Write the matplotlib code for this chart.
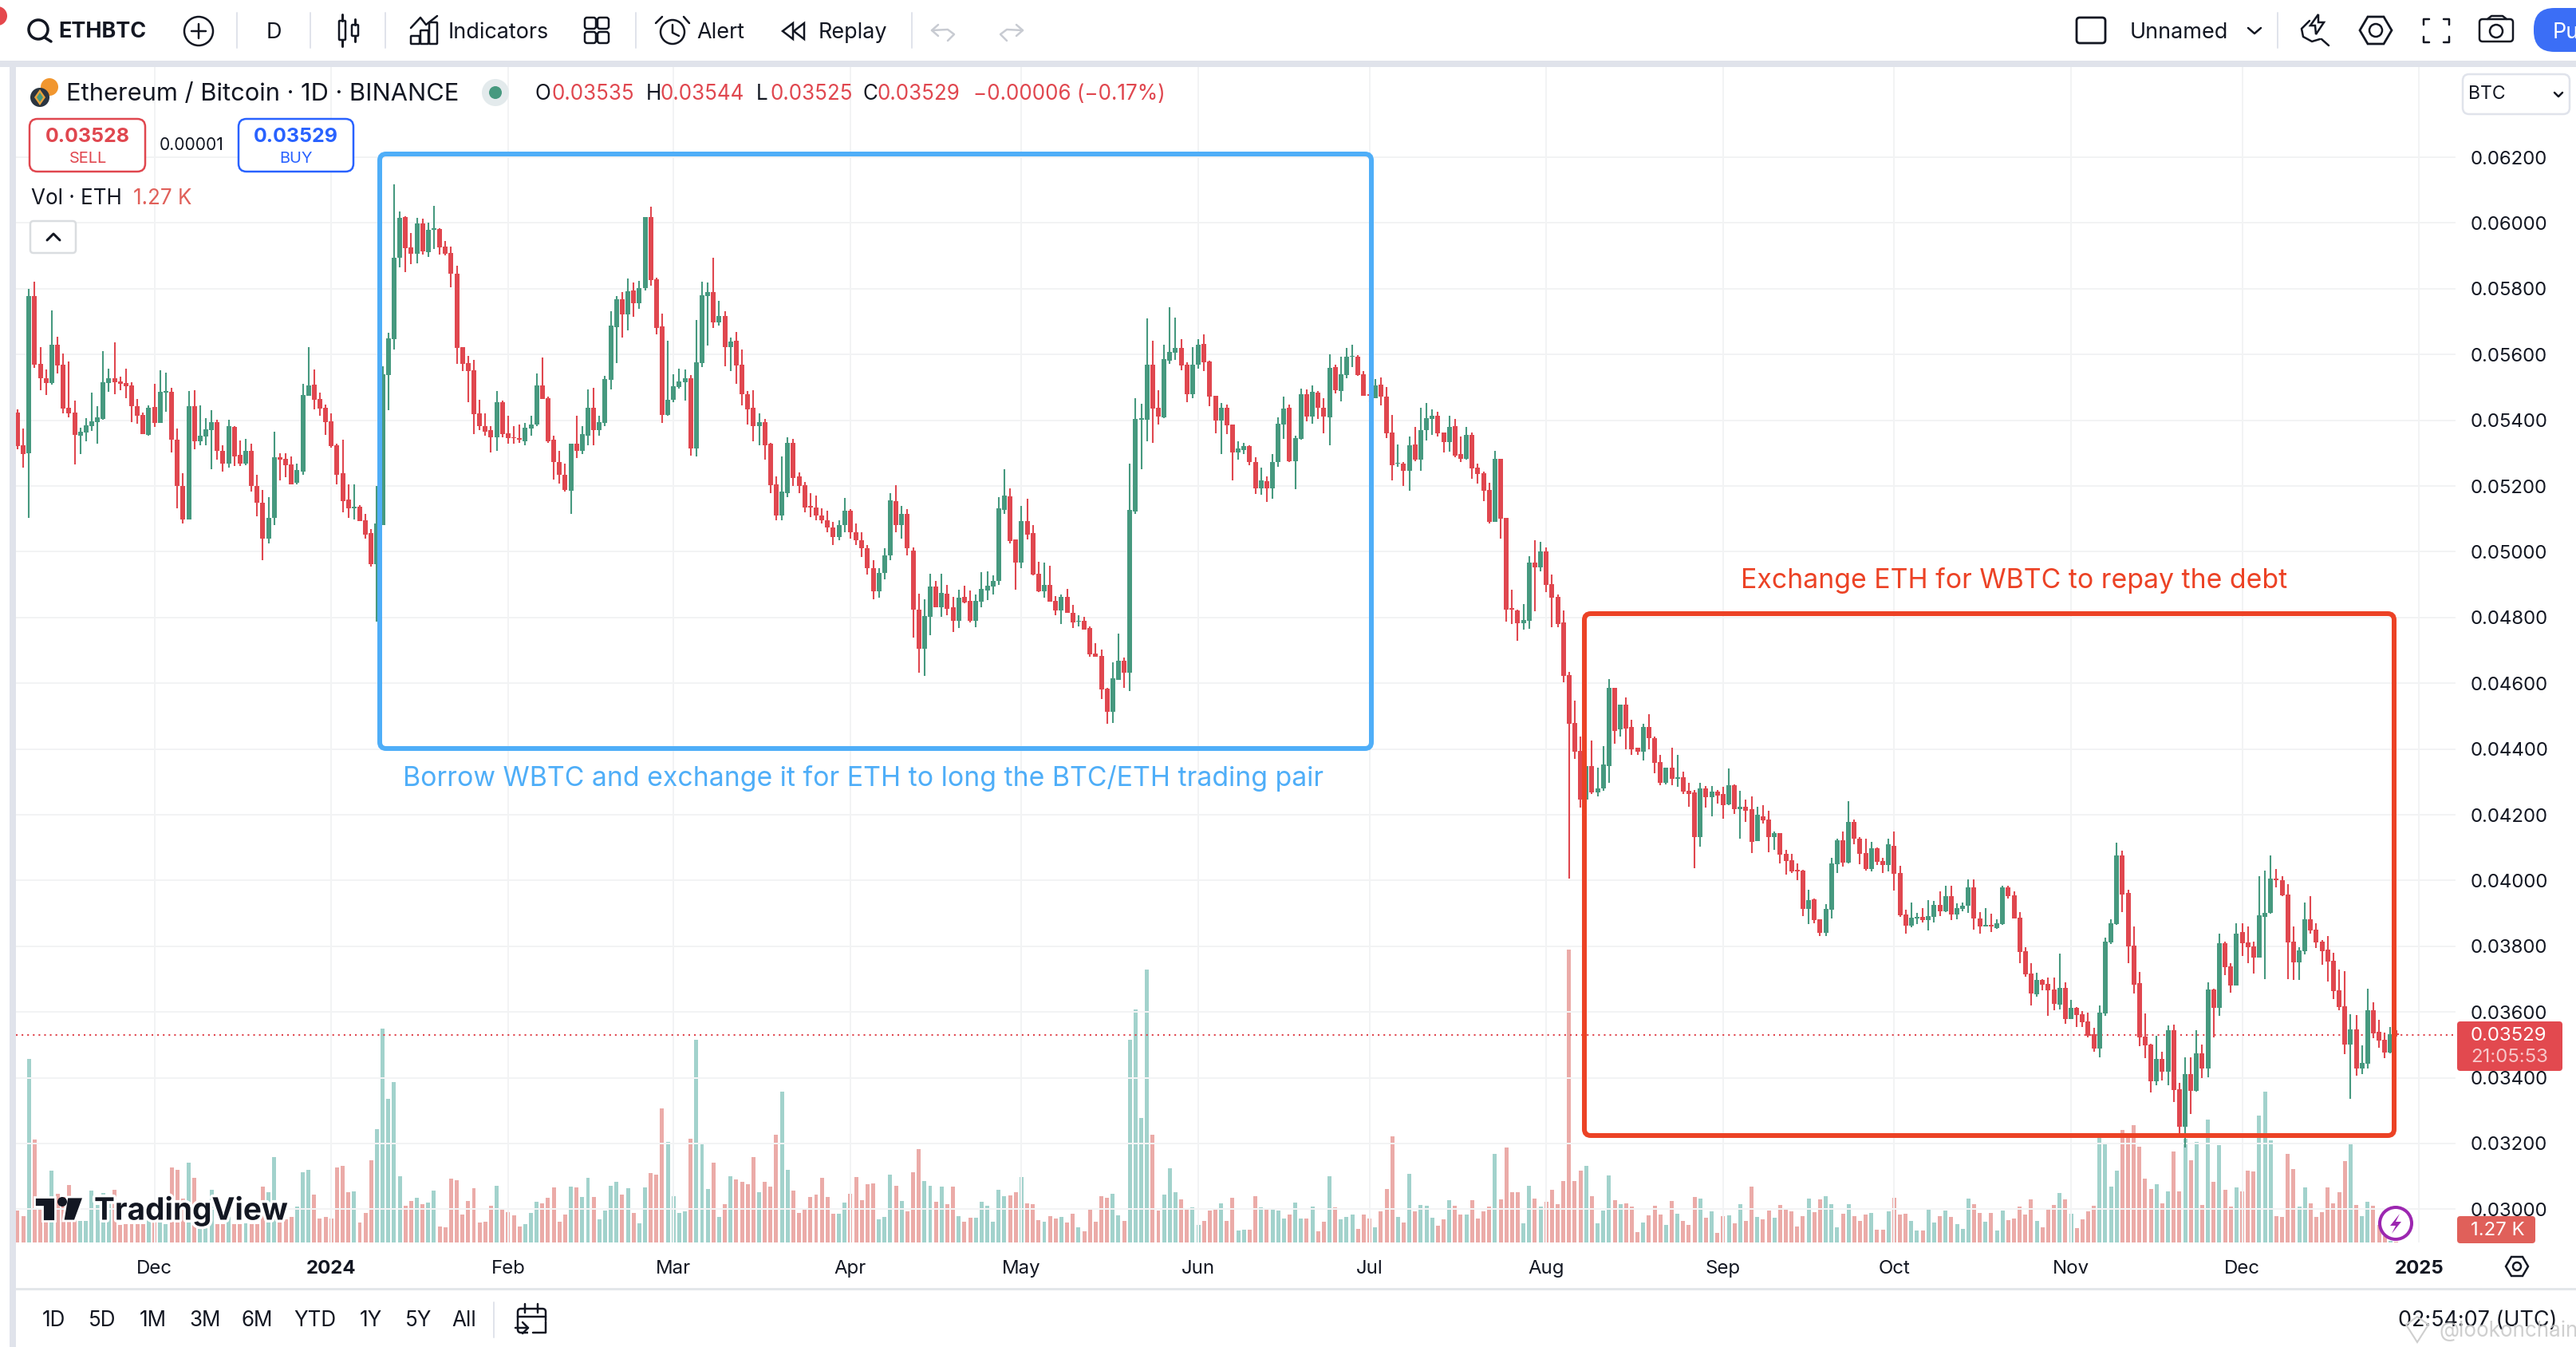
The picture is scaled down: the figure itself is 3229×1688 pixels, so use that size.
import numpy as np
import matplotlib
matplotlib.use('Agg')
import matplotlib.pyplot as plt
import matplotlib.dates as mdates
import matplotlib.patheffects as pe
from matplotlib.patches import FancyBboxPatch, Circle, Polygon, Rectangle

plt.rcParams['font.family'] = ['Inter', 'DejaVu Sans']

# ---- data (prices in units of 0.00001 BTC, volume in thousand ETH) ----
first_day = '2023-11-07'
opens = [5423,5323,5299,5777,5571,5527,5512,5629,5568,5437,
5423,5352,5362,5381,5393,5403,5512,5527,5517,5512,
5505,5442,5415,5355,5440,5391,5484,5486,5340,5201,
5099,5442,5335,5350,5369,5393,5308,5269,5379,5294,
5269,5306,5201,5150,5039,5102,5287,5282,5265,5209,
5243,5474,5508,5464,5437,5396,5323,5238,5158,5133,
5136,5095,5056,4961,5082,5537,5646,5894,6018,5926,
5907,5999,5911,5980,5982,5928,5909,5846,5622,5573,
5551,5420,5383,5369,5349,5454,5359,5349,5345,5337,
5374,5386,5505,5466,5340,5274,5233,5186,5328,5308,
5354,5439,5371,5391,5522,5683,5768,5722,5795,5756,
5802,6018,5829,5685,5415,5461,5500,5515,5527,5313,
5573,5778,5790,5697,5717,5622,5641,5568,5478,5437,
5381,5393,5328,5206,5110,5179,5332,5228,5203,5140,
5135,5110,5095,5075,5045,5080,5125,5060,5035,5010,
4950,4880,4935,4990,5155,5080,5115,
5004,4825,4704,4803,4893,4832,4872,4830,4789,4862,
4850,4789,4847,4883,4893,4910,5128,5169,5038,4966,
5094,5056,4934,4879,4900,4850,4822,4862,4815,4787,
4789,4767,4690,4682,4583,4513,4611,4668,4633,5123,
5402,5402,5569,5438,5409,5581,5605,5620,5569,5480,
5569,5632,5579,5475,5399,5438,5387,5303,5310,5322,
5274,5193,5215,5193,5272,5387,5438,5276,5344,5480,
5411,5485,5438,5409,5562,5490,5538,5592,5593,5540,
5480,5468,5509,5473,5363,5267,5267,5245,5325,5281,
5370,5404,5414,5363,5334,5383,5296,5283,5356,5257,
5240,5188,5091,5283,5103,4829,4822,4783,4790,4967,
4953,5001,4902,4863,4785,4624,4478,4393,4247,4347,
4269,4281,4349,4585,4459,4534,4466,4403,4391,4468,
4434,4359,4298,4342,4310,4315,4274,4267,4133,4281,
4254,4271,4262,4232,4291,4216,4225,4216,4121,4196,
4186,4133,4143,4082,4062,4033,4031,3914,3943,3883,
3841,3912,4050,4123,4055,4177,4128,4084,4036,4097,
4060,4048,4106,4024,3897,3863,3885,3890,3880,3890,
3926,3907,3953,3897,3914,3924,3980,3885,3861,3866,
3856,3868,3980,3956,3888,3786,3718,3655,3698,3686,
3669,3623,3674,3579,3613,3594,3572,3533,3489,3596,
3812,3868,4075,3961,3803,3689,3526,3501,3390,3458,
3419,3545,3365,3251,3412,3361,3475,3429,3669,3613,
3810,3740,3681,3842,3812,3800,3766,3890,3902,4007,
4002,3958,3815,3752,3786,3881,3851,3815,3791,3757,
3667,3618,3501,3548,3429,3443,3606,3540,3516,3477,3535]
highs = [5432,5374,5799,5821,5622,5554,5734,5653,5602,5578,
5459,5376,5406,5483,5442,5610,5556,5636,5532,5556,
5515,5464,5423,5444,5510,5551,5544,5498,5374,5238,
5488,5491,5444,5406,5430,5401,5325,5401,5381,5338,
5342,5328,5233,5187,5165,5364,5299,5299,5291,5267,
5510,5622,5554,5483,5447,5420,5328,5340,5206,5204,
5141,5116,5070,5199,5564,5666,6118,6036,6021,5970,
6016,6014,6001,6053,5984,5946,5928,5870,5622,5595,
5583,5461,5420,5383,5488,5459,5413,5381,5386,5391,
5413,5542,5590,5473,5352,5308,5267,5328,5413,5381,
5493,5498,5413,5534,5731,5778,5790,5831,5819,5824,
6018,6050,5834,5724,5641,5539,5556,5554,5537,5705,
5821,5819,5894,5763,5731,5651,5668,5615,5488,5491,
5422,5405,5332,5230,5289,5349,5342,5242,5211,5179,
5172,5133,5125,5090,5095,5164,5130,5085,5060,5020,
4975,4950,5010,5179,5203,5140,5130,
5013,4872,4855,4932,4910,4932,4900,4862,4884,4896,
4881,4869,4939,4941,4927,5167,5250,5193,5038,5140,
5162,5080,4970,4966,4958,4864,4869,4888,4839,4808,
4803,4774,4723,4702,4585,4663,4752,4678,5267,5468,
5449,5710,5642,5492,5630,5744,5713,5646,5577,5623,
5646,5660,5581,5475,5452,5448,5387,5337,5332,5325,
5288,5255,5230,5298,5409,5473,5448,5354,5497,5494,
5507,5490,5466,5601,5569,5593,5620,5630,5598,5550,
5543,5526,5531,5502,5416,5327,5272,5351,5380,5438,
5453,5433,5426,5363,5414,5404,5351,5380,5363,5269,
5244,5210,5308,5283,5103,4885,4824,4841,4987,5035,
5031,5014,4931,4870,4822,4634,4548,4439,4380,4425,
4342,4408,4612,4587,4534,4556,4490,4405,4476,4507,
4439,4383,4344,4403,4381,4330,4298,4276,4296,4288,
4288,4276,4286,4340,4293,4274,4245,4257,4225,4228,
4213,4150,4143,4092,4082,4053,4033,3973,3946,3883,
3929,4070,4128,4150,4242,4186,4131,4126,4118,4101,
4070,4126,4150,4045,3912,3934,3902,3917,3941,3939,
3968,3985,3985,3931,3934,4004,4004,3905,3917,3900,
3883,3985,3985,3968,3905,3798,3749,3720,3701,3706,
3706,3778,3691,3638,3616,3604,3599,3552,3621,3825,
3883,4114,4090,3973,3861,3723,3596,3504,3528,3480,
3560,3562,3385,3463,3463,3545,3501,3691,3672,3839,
3815,3749,3871,3871,3859,3815,4012,4031,4075,4034,
4012,3990,3859,3798,3934,3953,3871,3820,3832,3781,
3730,3725,3594,3591,3499,3672,3630,3577,3538,3555,3544]
lows = [5311,5257,5104,5559,5491,5476,5508,5542,5420,5408,
5265,5296,5335,5367,5328,5401,5486,5478,5491,5466,
5393,5389,5357,5352,5379,5391,5425,5301,5133,5087,
5099,5311,5323,5325,5250,5279,5243,5255,5260,5260,
5262,5184,5107,4975,5026,5080,5216,5226,5206,5206,
5233,5474,5432,5413,5355,5316,5206,5121,5104,5097,
5092,5039,4954,4788,5082,5431,5615,5865,5851,5875,
5877,5904,5897,5921,5904,5902,5804,5571,5549,5456,
5357,5369,5352,5303,5308,5349,5328,5328,5332,5323,
5354,5383,5464,5330,5220,5208,5184,5115,5284,5298,
5323,5323,5354,5381,5493,5573,5651,5673,5714,5739,
5795,5809,5661,5391,5413,5456,5495,5459,5293,5289,
5561,5627,5680,5688,5564,5549,5510,5444,5386,5335,
5325,5279,5179,5095,5095,5167,5199,5177,5120,5105,
5095,5085,5060,5020,5035,5060,5040,5020,4985,4930,
4855,4860,4915,4975,5060,5040,4990,
4740,4631,4623,4747,4832,4801,4808,4757,4767,4842,
4784,4770,4832,4852,4869,4900,5116,5026,4884,4951,
5038,4927,4876,4859,4847,4808,4779,4813,4769,4772,
4764,4680,4680,4551,4476,4479,4611,4587,4575,5114,
5251,5337,5332,5387,5407,5572,5584,5552,5456,5466,
5556,5550,5443,5361,5296,5358,5217,5281,5298,5264,
5176,5174,5152,5162,5259,5342,5274,5191,5341,5397,
5390,5404,5361,5325,5482,5458,5528,5562,5535,5475,
5454,5466,5445,5346,5217,5259,5201,5186,5276,5245,
5339,5356,5351,5303,5305,5287,5274,5281,5222,5208,
5154,5086,5091,5040,4788,4780,4729,4763,4766,4819,
4941,4877,4771,4771,4603,4007,4371,4223,4240,4262,
4257,4274,4298,4415,4439,4398,4381,4381,4366,4398,
4327,4291,4293,4291,4286,4264,4225,4038,4104,4223,
4196,4235,4189,4230,4203,4126,4179,4084,4121,4174,
4087,4094,4053,4019,4024,4002,3892,3868,3871,3832,
3832,3885,4024,4043,4053,4109,4050,4031,4028,4048,
4024,4028,3970,3890,3839,3858,3868,3873,3849,3873,
3892,3905,3880,3883,3907,3902,3851,3839,3859,3842,
3854,3866,3944,3885,3749,3708,3621,3647,3667,3589,
3606,3608,3565,3579,3555,3555,3523,3480,3463,3589,
3808,3866,3905,3749,3657,3497,3460,3356,3378,3392,
3378,3326,3232,3188,3290,3358,3399,3402,3523,3589,
3713,3659,3681,3771,3749,3718,3766,3701,3900,3978,
3953,3701,3698,3698,3776,3839,3795,3744,3693,3640,
3606,3472,3336,3407,3412,3429,3521,3492,3460,3475,3525]
closes = [5321,5296,5777,5568,5527,5512,5629,5566,5435,5420,
5355,5364,5384,5396,5408,5515,5527,5515,5510,5503,
5442,5413,5357,5437,5391,5486,5488,5340,5199,5099,
5442,5335,5352,5372,5393,5308,5267,5381,5291,5269,
5306,5199,5148,5041,5104,5287,5279,5262,5206,5248,
5476,5505,5461,5435,5393,5321,5235,5155,5131,5138,
5092,5053,4961,5085,5539,5649,5894,6016,5924,5907,
5999,5914,5980,5984,5926,5907,5846,5619,5571,5549,
5418,5381,5366,5349,5456,5357,5345,5345,5340,5376,
5388,5505,5464,5337,5272,5233,5189,5328,5308,5357,
5439,5371,5393,5525,5688,5768,5722,5792,5756,5802,
6018,5826,5680,5415,5461,5503,5517,5527,5313,5576,
5780,5790,5697,5717,5622,5639,5566,5478,5432,5381,
5393,5325,5203,5110,5182,5332,5225,5201,5135,5135,
5110,5095,5075,5045,5080,5125,5060,5035,5010,4950,
4880,4935,4990,5157,5080,5115,5010,
4823,4704,4805,4893,4832,4874,4827,4789,4859,4846,
4789,4850,4886,4896,4910,5131,5172,5033,4966,5094,
5053,4931,4879,4900,4847,4822,4862,4813,4784,4791,
4764,4687,4680,4580,4513,4614,4668,4632,5128,5404,
5407,5569,5436,5411,5586,5608,5620,5567,5480,5569,
5630,5577,5473,5399,5438,5385,5303,5313,5322,5272,
5193,5217,5193,5274,5390,5436,5276,5346,5480,5411,
5487,5438,5411,5560,5492,5540,5593,5595,5538,5475,
5475,5507,5472,5361,5262,5270,5245,5325,5281,5370,
5407,5414,5361,5334,5380,5293,5283,5356,5254,5237,
5186,5091,5283,5101,4824,4824,4783,4792,4967,4953,
5001,4899,4860,4780,4622,4476,4391,4247,4347,4269,
4281,4352,4585,4456,4534,4461,4400,4391,4468,4432,
4357,4298,4342,4310,4315,4271,4262,4131,4281,4254,
4271,4259,4230,4291,4216,4225,4213,4118,4199,4182,
4133,4143,4079,4060,4028,4028,3914,3941,3880,3841,
3914,4053,4123,4055,4177,4126,4082,4036,4097,4058,
4048,4109,4021,3895,3863,3888,3890,3880,3892,3926,
3907,3953,3897,3917,3924,3980,3885,3859,3866,3861,
3871,3978,3953,3885,3783,3715,3657,3698,3684,3667,
3625,3674,3579,3613,3591,3569,3528,3489,3599,3815,
3871,4077,3958,3800,3684,3523,3499,3390,3458,3419,
3545,3363,3251,3412,3361,3475,3429,3669,3613,3810,
3737,3681,3839,3810,3798,3766,3893,3902,4007,4000,
3956,3812,3752,3788,3881,3849,3812,3786,3754,3664,
3616,3501,3548,3429,3446,3606,3535,3514,3477,3533,3529]
volumes = [40,33,230,129,41,37,90,61,57,72,
43,27,27,65,47,62,58,66,22,23,
23,23,23,33,33,27,23,94,91,55,
100,81,17,37,66,23,23,40,23,23,
24,23,23,70,63,107,27,29,32,45,
88,91,60,30,32,30,94,96,63,64,
25,37,103,142,268,180,201,83,46,52,
56,48,50,65,20,19,80,78,35,52,
68,25,26,46,71,43,38,34,20,23,
37,51,49,56,69,26,35,70,69,57,
81,57,29,40,71,76,60,68,37,
24,69,87,85,168,126,58,37,39,130,
254,125,67,100,32,48,83,79,76,73,
107,63,76,70,135,189,91,65,37,41,
57,60,81,57,36,36,50,61,82,53,
73,74,29,32,85,71,52,39,88,117,
77,71,51,70,48,70,33,26,31,31,
51,46,26,66,58,59,63,82,49,48,
28,26,33,30,32,25,36,19,14,41,
26,58,56,61,34,27,254,292,156,342,
135,40,60,93,63,54,42,44,22,27,
40,43,49,27,56,15,16,16,58,44,
41,43,40,30,35,50,30,30,45,14,
26,83,44,29,32,35,17,35,30,19,
39,67,133,32,25,86,39,47,46,31,
21,29,53,46,35,35,53,30,39,45,
111,54,119,63,63,24,71,55,45,51,
66,48,77,367,77,90,96,58,24,40,
84,53,48,49,45,13,25,34,46,35,
22,52,36,27,22,57,55,31,39,12,
33,34,24,48,27,70,32,29,40,31,
47,41,39,20,33,55,38,54,58,48,
19,36,48,33,27,35,37,16,16,39,
56,35,36,27,15,15,43,25,33,40,
32,23,17,55,48,37,26,37,15,40,
28,30,45,35,54,27,19,41,47,62,
54,36,18,29,39,46,137,125,70,90,
141,137,147,120,80,67,73,49,64,114,
64,130,103,126,47,154,76,122,66,45,
69,64,90,89,159,189,128,33,32,111,
92,45,69,49,32,38,69,49,63,102,
125,47,33,51,46,22,8,2,1.27]

price_ticks = [0.030 + 0.002 * i for i in range(17)]
month_starts = ['2023-12-01','2024-01-01','2024-02-01','2024-03-01','2024-04-01','2024-05-01','2024-06-01',
                '2024-07-01','2024-08-01','2024-09-01','2024-10-01','2024-11-01','2024-12-01','2025-01-01']
month_labels = ['Dec','2024','Feb','Mar','Apr','May','Jun','Jul','Aug','Sep','Oct','Nov','Dec','2025']

# ---- colours ----
GREEN, RED = '#46997F', '#E0474F'
VGREEN, VRED = '#A2D2CC', '#EBABA8'
INK, GRID, STRIP = '#131722', '#F2F3F4', '#E0E3EB'
BLUEBOX, REDBOX = '#4FAEF8', '#EC4225'

W, H = 3230, 1688
fig = plt.figure(figsize=(W / 100, H / 100), dpi=100, facecolor='white')
def fs(px):
    return px * 0.72

# ---- chart axes ----
L, R, T, B = 20, 3078, 84, 1557
PXDAY, PXPRICE = 7.15, 82.4 / 0.002
pos = [L / W, 1 - B / H, (R - L) / W, (B - T) / H]
axv = fig.add_axes(pos, zorder=1)
ax = fig.add_axes(pos, zorder=2)
ax.patch.set_visible(False)

o, h, l, c = (np.array(a) * 1e-5 for a in (opens, highs, lows, closes))
v = np.array(volumes, dtype=float)
d0 = mdates.date2num(np.datetime64(first_day))
x = d0 + np.arange(len(o))
up = c >= o
col = np.where(up, GREEN, RED)

xlim = (d0 - (22 - L) / PXDAY, d0 + (R - 22) / PXDAY)
ymax = 0.062 + (197 - T) / PXPRICE
ymin = 0.062 - (B - 197) / PXPRICE

axv.set_xlim(*xlim)
axv.set_ylim(0, B - T)
axv.bar(x, v, width=5 / PXDAY, color=np.where(up, VGREEN, VRED), linewidth=0)
axv.axis('off')

ax.set_xlim(*xlim)
ax.set_ylim(ymin, ymax)
ax.set_axisbelow(True)
ax.grid(True, color=GRID, linewidth=1.44, zorder=0)
for s in ax.spines.values():
    s.set_visible(False)
ax.yaxis.tick_right()
ax.set_yticks(price_ticks)
ax.set_yticklabels([f'{p:.5f}' for p in price_ticks], fontsize=fs(24), color=INK)
ax.set_xticks([mdates.date2num(np.datetime64(m)) for m in month_starts])
ax.set_xticklabels(month_labels, fontsize=fs(24), color=INK)
for t, s in zip(ax.get_xticklabels(), month_labels):
    if s.isdigit():
        t.set_fontweight('bold')
ax.tick_params(axis='both', length=0)
ax.tick_params(axis='y', pad=13.5)
ax.tick_params(axis='x', pad=16)

ax.vlines(x, l, h, colors=col, linewidth=1.5, zorder=3)
ax.bar(x, np.maximum(np.abs(c - o), 0.00003), bottom=np.minimum(o, c), width=6 / PXDAY, color=col, linewidth=0, zorder=4)
ax.axhline(c[-1], color=RED, linewidth=1.5, linestyle=(0, (1, 2.4)), zorder=2)

# ---- interface overlay, in screen pixels ----
ui = fig.add_axes([0, 0, 1, 1], zorder=5)
ui.set_xlim(0, W)
ui.set_ylim(H, 0)
ui.axis('off')
ui.patch.set_visible(False)

def rr(x0, y0, x1, y1, r=4, ec='none', fc='none', lw=2, z=3, alpha=None):
    p = FancyBboxPatch((x0, y0), x1 - x0, y1 - y0, boxstyle=f'round,pad=0,rounding_size={r}',
                       ec=ec, fc=fc, lw=lw * 0.72, zorder=z, alpha=alpha, mutation_aspect=1)
    ui.add_patch(p)
def ln(xs, ys, color=INK, lw=3, z=3, **k):
    ui.plot(xs, ys, color=color, lw=lw * 0.72, zorder=z, solid_capstyle='round', solid_joinstyle='round', **k)
def circ(cx, cy, r, ec='none', fc='none', lw=2, z=3):
    ui.add_patch(Circle((cx, cy), r, ec=ec, fc=fc, lw=lw * 0.72, zorder=z))
def tx(px, py, s, size=27, color=INK, ha='left', weight='normal', z=4, **k):
    return ui.text(px, py + 2, s, fontsize=fs(size), color=color, ha=ha, va='center', fontweight=weight, zorder=z, **k)
def sep(px, y0=16, y1=60):
    ln([px, px], [y0, y1], color=STRIP, lw=2)

# frame strips
ui.add_patch(Rectangle((0, 76), W, 8, fc=STRIP, ec='none', zorder=1))
ui.add_patch(Rectangle((12, 76), 8, H - 76, fc=STRIP, ec='none', zorder=1))
ln([L, W], [1615, 1615], color='#E3E6EA', lw=3, z=1)

# top toolbar
circ(-3, 20, 12 + 0, fc='#E5484D')
circ(48, 37, 12, ec=INK, lw=3.5)
ln([56, 64], [47, 52], lw=3.5)
tx(73, 38, 'ETHBTC', 27, weight='bold')
circ(249, 39, 18, ec=INK, lw=2.5)
ln([249, 249], [30, 48], lw=2.5); ln([240, 258], [39, 39], lw=2.5)
for px in (297, 389, 483, 797, 1143, 2855):
    sep(px)
tx(343, 39, 'D', 27, ha='center')
for cx, y0, y1, ya, yb in ((429, 18, 58, 26, 50), (445, 24, 52, 31, 45)):
    ln([cx, cx], [y0, ya]); ln([cx, cx], [yb, y1]); rr(cx - 4, ya, cx + 4, yb, 1, ec=INK, lw=2.5)
for x0, x1, y0 in ((515, 526, 45), (527, 537, 38), (538, 548, 28)):
    rr(x0, y0, x1, 55, 1, ec=INK, lw=2.5)
ln([515, 527, 534, 548], [35, 22, 31, 20], lw=2.5)
tx(562, 39, 'Indicators', 27)
for cx, cy in ((740, 29), (756, 29), (740, 47), (756, 47)):
    rr(cx - 7, cy - 7, cx + 7, cy + 7, 3, ec=INK, lw=2.5)
circ(843, 40, 15, ec=INK, lw=2.5)
ln([843, 843, 851], [31, 41, 45], lw=2.5)
ln([822, 830], [29, 21], lw=2.5); ln([857, 864], [21, 29], lw=2.5)
tx(873, 39, 'Alert', 27)
ui.add_patch(Polygon([(995, 39), (1008, 29), (1008, 49)], closed=True, fill=False, ec=INK, lw=1.8, zorder=3))
ui.add_patch(Polygon([(981, 39), (994, 29), (994, 49)], closed=True, fill=False, ec=INK, lw=1.8, zorder=3))
tx(1026, 39, 'Replay', 27)
ln([1176, 1168, 1176], [31, 38, 45], color='#C8CBD2', lw=2.5)
ln([1168, 1188, 1196, 1188], [38, 37, 43, 51], color='#C8CBD2', lw=2.5)
ln([1274, 1282, 1274], [31, 38, 45], color='#C8CBD2', lw=2.5)
ln([1282, 1262, 1254, 1262], [38, 37, 43, 51], color='#C8CBD2', lw=2.5)
rr(2603, 22, 2639, 54, 4, ec=INK, lw=2.8)
tx(2670, 39, 'Unnamed', 27)
ln([2818, 2826, 2834], [35, 42, 35], lw=2.5)
ui.add_patch(Polygon([(2906, 18), (2906, 28), (2913, 28), (2903, 43), (2902, 32), (2896, 32)], closed=True, fill=False, ec=INK, lw=1.8, zorder=3))
ln([2895, 2885, 2887, 2898, 2908], [26, 36, 46, 52, 49], lw=2.5)
ln([2910, 2919], [49, 57], lw=2.5)
ui.add_patch(Polygon([(2958, 38), (2968, 21), (2988, 21), (2998, 38), (2988, 55), (2968, 55)], closed=True, fill=False, ec=INK, lw=2, zorder=3))
circ(2978, 38, 8, ec=INK, lw=2.5)
for xa, xb, ya, yb in ((3038, 3045, 24, 31), (3070, 3063, 24, 31), (3038, 3045, 53, 46), (3070, 3063, 53, 46)):
    ln([xa, xa, xb], [yb, ya, ya], lw=2.5)
rr(3108, 24, 3150, 52, 4, ec=INK, lw=2.5)
ln([3118, 3123, 3137, 3142], [24, 20, 20, 24], lw=2.5)
circ(3129, 39, 8, ec=INK, lw=2.5)
rr(3176, 10, 3260, 65, 26, fc='#3B6EF6')
tx(3200, 39, 'Pu', 27, color='white')

# legend block
circ(50, 122, 12, fc='#2B3540')
ui.add_patch(Polygon([(50, 112), (57, 122), (50, 132), (43, 122)], closed=True, fc='#E9A13B', ec='none', zorder=3))
ui.add_patch(Polygon([(50, 116), (54, 122), (50, 128), (46, 122)], closed=True, fc='#46997F', ec='none', zorder=3))
circ(62, 109, 11, fc='#F1962F', z=2)
tx(83, 116, 'Ethereum / Bitcoin · 1D · BINANCE', 30.8)
circ(621, 116, 17, fc='#E3EAEC')
circ(621, 116, 8, fc='#46997F')
for px, a, pv, b in ((671, 'O', 692, '0.03535'), (810, 'H', 828, '0.03544'), (948, 'L', 966, '0.03525'), (1082, 'C', 1100, '0.03529')):
    tx(px, 116, a, 26)
    tx(pv, 116, b, 26, color=RED)
tx(1220, 116, '−0.00006 (−0.17%)', 26, color=RED)

rr(37, 149, 182, 215, 10, ec=RED, fc='white', lw=2.5)
tx(110, 170, '0.03528', 25, color=RED, ha='center', weight='bold')
tx(110, 197, 'SELL', 20, color=RED, ha='center')
tx(240, 180, '0.00001', 21, ha='center')
rr(299, 149, 443, 215, 10, ec='#2962FF', fc='white', lw=2.5)
tx(371, 170, '0.03529', 25, color='#2962FF', ha='center', weight='bold')
tx(371, 197, 'BUY', 20, color='#2962FF', ha='center')
tx(39, 247, 'Vol · ETH', 26)
tx(167, 247, '1.27 K', 26, color='#E0605A')
rr(38, 277, 95, 317, 4, ec='#DADDE0', fc='white', lw=2.5)
ln([59, 67, 75], [301, 293, 301], lw=3)
rr(3087, 93, 3221, 143, 8, ec=STRIP, fc='white', lw=2.5)
tx(3094, 116, 'BTC', 23)
ln([3202, 3207, 3212], [116, 121, 116], lw=2.5)

# annotation boxes
rr(476, 193, 1719, 938, 8, ec=BLUEBOX, lw=6, z=3)
rr(1986, 769, 3001, 1423, 8, ec=REDBOX, lw=6, z=3)
tx(1082, 974, 'Borrow WBTC and exchange it for ETH to long the BTC/ETH trading pair', 33.8, color=BLUEBOX, ha='center')
tx(2525, 726, 'Exchange ETH for WBTC to repay the debt', 33.8, color=REDBOX, ha='center')

# price badges
rr(3080, 1280, 3212, 1342, 4, fc='#E2494F')
tx(3097, 1296, '0.03529', 24, color='white')
tx(3097, 1323, '21:05:53', 24, color='#F7C8CA')
rr(3080, 1524, 3178, 1558, 4, fc='#E0605A')
tx(3097, 1540, '1.27 K', 24, color='white')

# lightning mark
circ(3003, 1533, 20, ec='#9C27B0', fc='white', lw=4)
ui.add_patch(Polygon([(3008, 1521), (2996, 1536), (3003, 1536), (2998, 1546), (3010, 1531), (3003, 1531)], closed=True, fc='#9C27B0', ec='none', zorder=4))

# TradingView logo
halo = [pe.withStroke(linewidth=5, foreground='white')]
for pts in ([(43, 1500), (69, 1500), (69, 1530), (53, 1530), (53, 1512), (43, 1512)], [(84, 1500), (105, 1500), (94, 1530), (79, 1530)]):
    ui.add_patch(Polygon(pts, closed=True, fc=INK, ec='white', lw=2, zorder=4))
circ(78, 1506, 6, fc=INK, z=4)
tx(118, 1515, 'TradingView', 38.7, weight='bold', path_effects=halo)

# bottom bar
for px, s in zip((67, 128, 192, 257, 322, 395, 465, 525, 582), ('1D', '5D', '1M', '3M', '6M', 'YTD', '1Y', '5Y', 'All')):
    tx(px, 1653, s, 26, ha='center')
sep(619, 1632, 1676)
rr(649, 1640, 684, 1670, 4, ec=INK, lw=2.5)
ui.add_patch(Rectangle((662, 1655), 24, 20, fc='white', ec='none', zorder=3))
ln([649, 684], [1650, 1650], lw=2.5)
ln([658, 658], [1634, 1645], lw=2.5); ln([674, 674], [1634, 1645], lw=2.5)
ln([646, 662, 655], [1664, 1664, 1657], lw=2.5); ln([662, 655], [1664, 1671], lw=2.5)
ln([684, 684, 668], [1656, 1670, 1670], lw=2.5)
ui.add_patch(Polygon([(3141, 1587), (3148, 1575), (3162, 1575), (3169, 1587), (3162, 1599), (3148, 1599)], closed=True, fill=False, ec=INK, lw=1.8, zorder=3))
circ(3155, 1587, 5, ec=INK, lw=2.5)
tx(3006, 1653, '02:54:07 (UTC)', 27)
tx(3058, 1666, '@lookonchain', 26, color='#C4C4C4', alpha=0.8)
ui.add_patch(Polygon([(3016, 1660), (3030, 1650), (3044, 1660), (3030, 1682)], closed=True, fill=False, ec='#CFCFCF', lw=1.5, zorder=4))

fig.savefig('out.png', dpi=100, facecolor='white')
